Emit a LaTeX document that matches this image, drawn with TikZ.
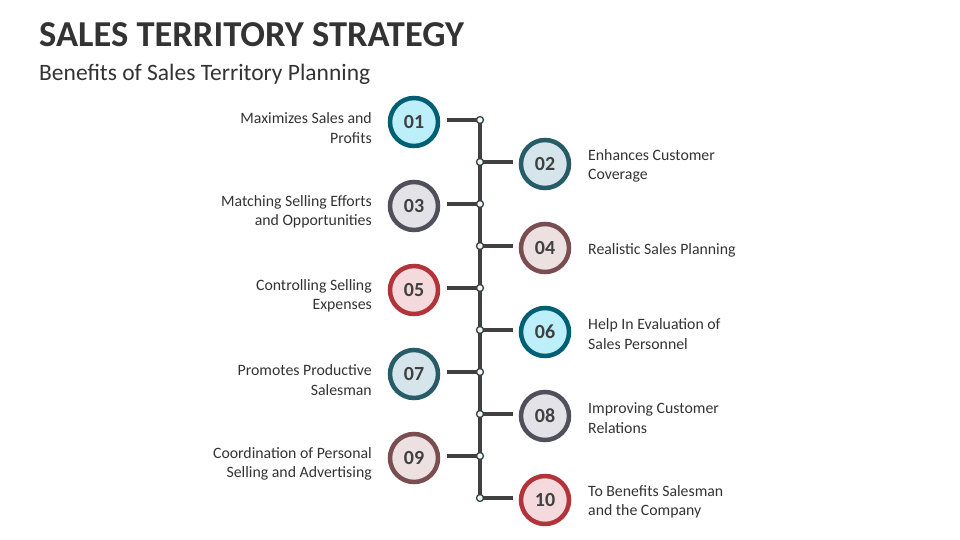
\documentclass[tikz,border=0pt]{standalone}
\usepackage{fontspec}
\setmainfont{Carlito}
\usetikzlibrary{calc}
\begin{document}
\begin{tikzpicture}[x=1pt,y=-1pt,
  lbl/.style={font=\fontsize{15.8}{19.5}\selectfont,text=black!80,align=left,anchor=west},
  lblr/.style={font=\fontsize{15.8}{19.5}\selectfont,text=black!80,align=right,anchor=east},
  num/.style={circle,minimum size=48pt,line width=4.5pt,font=\fontsize{20}{20}\selectfont\bfseries,text=black!75},
  dot/.style={circle,draw=black!75,fill=cyan!10,line width=1.3pt,inner sep=0pt,minimum size=7pt},
  conn/.style={draw=black!75,line width=4pt}]
\useasboundingbox (0,0) rectangle (960,540);
\definecolor{cA}{HTML}{005F73}\definecolor{fA}{HTML}{BDEFFA}
\definecolor{cB}{HTML}{285B68}\definecolor{fB}{HTML}{D5E5EB}
\definecolor{cC}{HTML}{50505C}\definecolor{fC}{HTML}{E3E3E7}
\definecolor{cD}{HTML}{7A4D51}\definecolor{fD}{HTML}{EDE0E1}
\definecolor{cE}{HTML}{B3333B}\definecolor{fE}{HTML}{F4DADC}
\node[anchor=west,inner sep=0pt,font=\fontsize{36.5}{38}\selectfont\bfseries,text=black!80] (title) at (39,35) {SALES TERRITORY STRATEGY};
\node[anchor=west,inner sep=0pt,font=\fontsize{23.5}{26}\selectfont,text=black!80] (sub) at (39,74) {Benefits of Sales Territory Planning};
\coordinate (top) at (480,120);
\coordinate (bot) at (480,498);
\draw[conn] (top) -- (bot);
\foreach \i/\t/\c/\f/\txt in {
 1/01/cA/fA/{Maximizes Sales and\\Profits},
 3/03/cC/fC/{Matching Selling Efforts\\and Opportunities},
 5/05/cE/fE/{Controlling Selling\\Expenses},
 7/07/cB/fB/{Promotes Productive\\Salesman},
 9/09/cD/fD/{Coordination of Personal\\Selling and Advertising}}{
  \coordinate (s\i) at (447,{120+42*(\i-1)});
  \draw[conn] (s\i) -- (480,{120+42*(\i-1)});
  \node[num,draw=\c,fill=\f] (n\i) at (414,{122+42*(\i-1)}) {\t};
  \node[dot] (d\i) at (480,{120+42*(\i-1)}) {};
  \node[lblr,inner sep=0pt] (l\i) at (372,{128+42*(\i-1)}) {\txt};
}
\foreach \i/\t/\c/\f/\txt in {
 2/02/cB/fB/{Enhances Customer\\Coverage},
 4/04/cD/fD/{Realistic Sales Planning},
 6/06/cA/fA/{Help In Evaluation of\\Sales Personnel},
 8/08/cC/fC/{Improving Customer\\Relations},
 10/10/cE/fE/{To Benefits Salesman\\and the Company}}{
  \coordinate (s\i) at (513,{120+42*(\i-1)});
  \draw[conn] (480,{120+42*(\i-1)}) -- (s\i);
  \node[num,draw=\c,fill=\f] (n\i) at (545,{122+42*(\i-1)}) {\t};
  \node[dot] (d\i) at (480,{120+42*(\i-1)}) {};
  \node[lbl,inner sep=0pt] (l\i) at (588,{124+42*(\i-1)}) {\txt};
}
\end{tikzpicture}
\end{document}
